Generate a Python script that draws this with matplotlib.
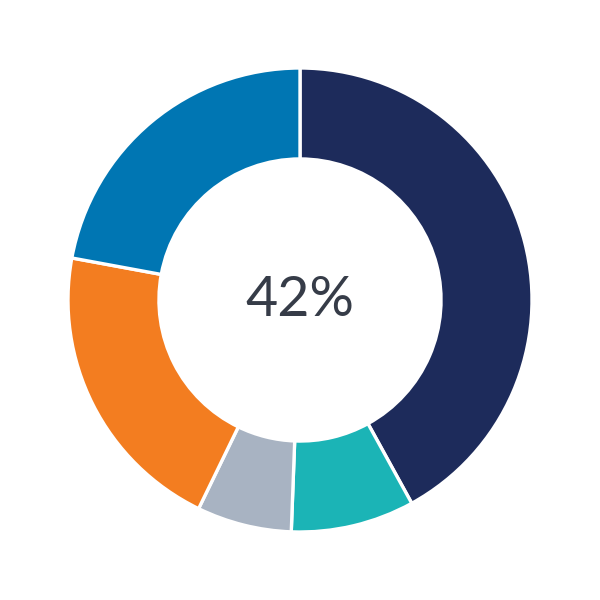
import matplotlib.pyplot as plt

# slice shares, clockwise from 12 o'clock
labels = ['Navy', 'Teal', 'Gray', 'Orange', 'Blue']
shares = [42, 8.6, 6.6, 20.7, 22.1]
colors = ['#1d2b5b', '#1bb4b6', '#a8b3c2', '#f37d20', '#0076b3']
center_label = '42%'

fig = plt.figure(figsize=(6, 6), dpi=100)
ax = fig.add_axes([0, 0, 1, 1])

ax.pie(shares, colors=colors, startangle=90, counterclock=False,
       radius=1.0,
       wedgeprops=dict(width=0.392, edgecolor='white', linewidth=2.4))

ax.text(0, 0, center_label, ha='center', va='center', fontsize=40,
        family=['Lato', 'DejaVu Sans'], fontweight='normal', color='#363c48')

lim = 300 / 232
ax.set_xlim(-lim, lim)
ax.set_ylim(-lim, lim)
ax.set_aspect('equal')
ax.axis('off')

plt.savefig('out.png', dpi=100, facecolor='white')
